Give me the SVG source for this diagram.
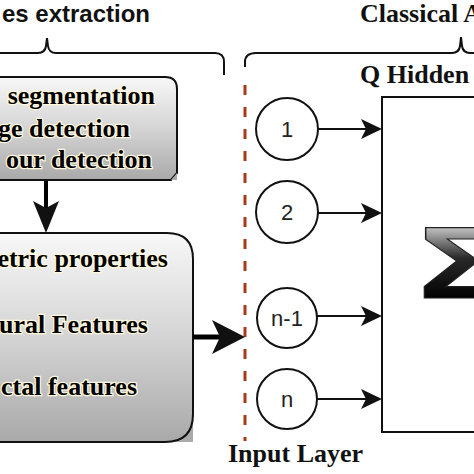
<svg xmlns="http://www.w3.org/2000/svg" width="474" height="474" viewBox="0 0 474 474">
<defs>
<linearGradient id="boxg" x1="0" y1="0" x2="0" y2="1">
<stop offset="0" stop-color="#f8f8f8"/>
<stop offset="0.5" stop-color="#d4d4d4"/>
<stop offset="1" stop-color="#a9a9a9"/>
</linearGradient>
<linearGradient id="sigg" x1="0" y1="227" x2="0" y2="300" gradientUnits="userSpaceOnUse">
<stop offset="0" stop-color="#d8d8d8"/>
<stop offset="0.2" stop-color="#8a8a8a"/>
<stop offset="0.45" stop-color="#2a2a2a"/>
<stop offset="1" stop-color="#000"/>
</linearGradient>
<style>
.ttl{font-family:"Liberation Serif","Times New Roman",serif;font-weight:bold;font-size:26px;fill:#111}
.sans{font-family:"Liberation Sans",Arial,sans-serif;font-weight:bold;font-size:24px;fill:#111}
.bt{font-family:"Liberation Serif","Times New Roman",serif;font-weight:bold;font-size:26px;fill:#000;stroke:#fff8dc;stroke-width:2.5;paint-order:stroke;text-anchor:end}
.box{fill:url(#boxg);stroke:#111;stroke-width:2}
.brace{fill:none;stroke:#111;stroke-width:2}
.nd{fill:#fff;stroke:#111;stroke-width:2}
.nl{font-family:"Liberation Sans",Arial,sans-serif;font-size:22px;fill:#222;text-anchor:middle}
.ln{stroke:#111;stroke-width:2;fill:none}
.head{fill:#111}
</style>
</defs>
<rect width="474" height="474" fill="#fff"/>

<g id="titles">
<text class="sans" x="150" y="22" text-anchor="end">es extraction</text>
<text class="ttl" x="360" y="22">Classical A</text>
<text class="ttl" x="360" y="83">Q Hidden</text>
<text class="ttl" x="228" y="462">Input Layer</text>
</g>

<g id="braces">
<path class="brace" d="M-5,53 H38 Q45,53 46,46 L47,38 L48,46 Q49,53 56,53 H215 Q224,53 224,62 V75"/>
<path class="brace" d="M245,67 V62 Q245,53 256,53 H452 Q459,53 460,46 L461,37 L462,46 Q463,53 470,53 H480"/>
</g>

<g id="box-segmentation">
<path class="box" d="M-10,77 H165 Q177,77 177,89 V173 L171,180 H-10 Z"/>
<path d="M171,180 L177,180 L177,173 Z" fill="#a9a9a9"/>
<text class="bt" x="155" y="104">segmentation</text>
<text class="bt" x="130" y="137">ge detection</text>
<text class="bt" x="152" y="168">our detection</text>
</g>

<g id="box-features">
<rect x="165" y="414" width="28" height="28" fill="#aaa"/>
<path class="box" d="M-10,233 H167 Q193,233 193,259 V414 Q193,442 165,442 H-10 Z"/>
<text class="bt" x="168" y="267">etric properties</text>
<text class="bt" x="148" y="333">ural Features</text>
<text class="bt" x="137" y="395">ctal features</text>
</g>

<g id="input-boundary">
<line x1="245" y1="85" x2="245" y2="441" stroke="#a83a1c" stroke-width="3" stroke-dasharray="10 12"/>
</g>

<g id="node-1"><circle class="nd" cx="287" cy="129" r="31"/><text class="nl" x="287" y="137">1</text></g>
<g id="node-2"><circle class="nd" cx="287" cy="212" r="31"/><text class="nl" x="287" y="220">2</text></g>
<g id="node-n-1"><circle class="nd" cx="287" cy="318" r="30"/><text class="nl" x="287" y="326">n-1</text></g>
<g id="node-n"><circle class="nd" cx="287" cy="399" r="30"/><text class="nl" x="287" y="407">n</text></g>

<g id="hidden-layer">
<rect x="382" y="97" width="120" height="335" fill="#fff" stroke="#111" stroke-width="2"/>
<text x="0" y="298" transform="translate(418,0) scale(1.5,1.05) translate(0,-14.2)" font-family="'Liberation Sans',Arial,sans-serif" font-weight="bold" font-size="98" fill="url(#sigg)" stroke="#222" stroke-width="1">Σ</text>
</g>

<g id="connectors">
<line x1="46" y1="181" x2="46" y2="210" stroke="#000" stroke-width="4"/>
<path class="head" d="M46,233 L33,201 L46,208 L59,201 Z"/>
<line x1="193" y1="337" x2="220" y2="337" stroke="#000" stroke-width="5"/>
<path class="head" d="M245,337 L212,320 L220,337 L212,354 Z"/>
<line class="ln" x1="318" y1="129" x2="370" y2="129"/>
<path class="head" d="M382,129 L361,119 L366,129 L361,139 Z"/>
<line class="ln" x1="318" y1="213" x2="370" y2="213"/>
<path class="head" d="M382,213 L361,203 L366,213 L361,223 Z"/>
<line class="ln" x1="317" y1="316" x2="370" y2="316"/>
<path class="head" d="M382,316 L361,306 L366,316 L361,326 Z"/>
<line class="ln" x1="317" y1="399" x2="370" y2="399"/>
<path class="head" d="M382,399 L361,389 L366,399 L361,409 Z"/>
</g>
</svg>
